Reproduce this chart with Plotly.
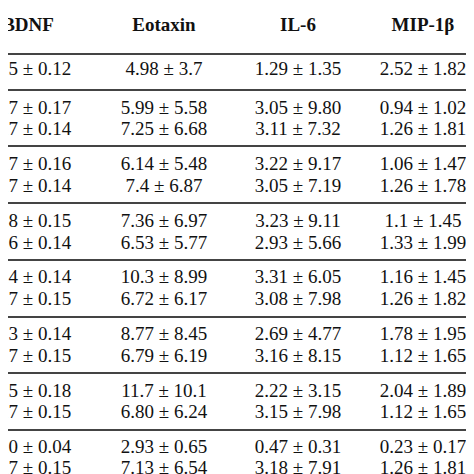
import plotly.graph_objects as go

headers = ["BDNF", "Eotaxin", "IL-6", "MIP-1β"]
bdnf = ["0.25 ± 0.12", "0.27 ± 0.17", "0.27 ± 0.14", "0.27 ± 0.16", "0.27 ± 0.14",
        "0.28 ± 0.15", "0.26 ± 0.14", "0.24 ± 0.14", "0.27 ± 0.15", "0.23 ± 0.14",
        "0.27 ± 0.15", "0.25 ± 0.18", "0.27 ± 0.15", "0.20 ± 0.04", "0.27 ± 0.15"]
eotaxin = ["4.98 ± 3.7", "5.99 ± 5.58", "7.25 ± 6.68", "6.14 ± 5.48", "7.4 ± 6.87",
           "7.36 ± 6.97", "6.53 ± 5.77", "10.3 ± 8.99", "6.72 ± 6.17", "8.77 ± 8.45",
           "6.79 ± 6.19", "11.7 ± 10.1", "6.80 ± 6.24", "2.93 ± 0.65", "7.13 ± 6.54"]
il6 = ["1.29 ± 1.35", "3.05 ± 9.80", "3.11 ± 7.32", "3.22 ± 9.17", "3.05 ± 7.19",
       "3.23 ± 9.11", "2.93 ± 5.66", "3.31 ± 6.05", "3.08 ± 7.98", "2.69 ± 4.77",
       "3.16 ± 8.15", "2.22 ± 3.15", "3.15 ± 7.98", "0.47 ± 0.31", "3.18 ± 7.91"]
mip1b = ["2.52 ± 1.82", "0.94 ± 1.02", "1.26 ± 1.81", "1.06 ± 1.47", "1.26 ± 1.78",
         "1.1 ± 1.45", "1.33 ± 1.99", "1.16 ± 1.45", "1.26 ± 1.82", "1.78 ± 1.95",
         "1.12 ± 1.65", "2.04 ± 1.89", "1.12 ± 1.65", "0.23 ± 0.17", "1.26 ± 1.81"]

col_x = [20, 156, 290, 415]
row_y = [62, 101, 122, 157, 179, 214, 236, 270, 292, 327, 349, 384, 405, 440, 461]
line_y = [46, 82, 138, 195, 252, 309, 365, 422]

fig = go.Figure()
fig.add_trace(go.Scatter(x=col_x, y=[18]*4, mode="text", text=["<b>%s</b>" % h for h in headers],
                         textfont=dict(family="Liberation Serif", size=19, color="#111"),
                         hoverinfo="skip"))
for cx, col in zip(col_x, [bdnf, eotaxin, il6, mip1b]):
    fig.add_trace(go.Scatter(x=[cx]*len(col), y=row_y, mode="text", text=col,
                             textfont=dict(family="Liberation Serif", size=19, color="#111"),
                             hoverinfo="skip"))
for ly in line_y:
    fig.add_shape(type="line", x0=0, x1=1, xref="paper", y0=ly, y1=ly, yref="y",
                  line=dict(color="#444", width=2))
fig.update_layout(width=474, height=474, margin=dict(l=0, r=0, t=0, b=0),
                  showlegend=False, plot_bgcolor="white", paper_bgcolor="white",
                  xaxis=dict(range=[0, 474], visible=False),
                  yaxis=dict(range=[474, 0], visible=False))
fig.write_html("out.html")
